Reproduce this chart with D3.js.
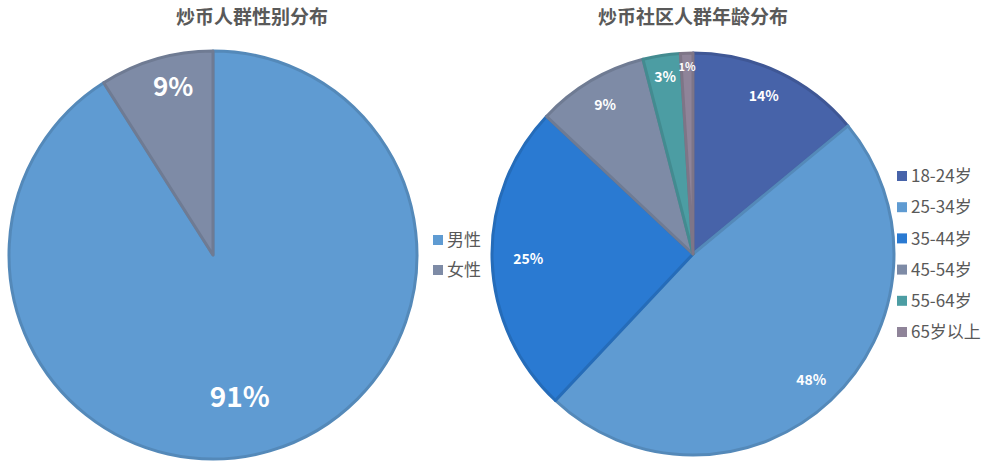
<!DOCTYPE html>
<html><head><meta charset="utf-8">
<script src="https://cdn.jsdelivr.net/npm/d3@7"></script>
<style>body{margin:0;background:#fff}svg{display:block}</style>
</head><body>
<svg id="c" width="1000" height="473"></svg>
<script>
const genderTitle = "炒币人群性别分布";
const genderCats = ["男性", "女性"];
const genderVals = [91, 9];
const genderColors = ["#5F9BD2", "#7E8BA6"];

const ageTitle = "炒币社区人群年龄分布";
const ageCats = ["18-24岁", "25-34岁", "35-44岁", "45-54岁", "55-64岁", "65岁以上"];
const ageVals = [14, 48, 25, 9, 3, 1];
const ageColors = ["#4763A9", "#5F9BD2", "#2A7AD2", "#7E8BA6", "#4C9DA3", "#8F8499"];

const svg = d3.select("#c");
const font = "'Noto Sans CJK SC', 'Noto Sans', sans-serif";

function drawPie(cfg) {
  const g = svg.append("g").attr("transform", `translate(${cfg.cx},${cfg.cy})`);
  const pie = d3.pie().sort(null).value(d => d.v);
  const data = pie(cfg.cats.map((c, i) => ({c, v: cfg.vals[i], col: cfg.colors[i]})));
  const arc = d3.arc().innerRadius(0).outerRadius(cfg.r);
  g.selectAll("path.s").data(data).join("path").attr("class", "s")
    .attr("d", arc)
    .attr("fill", d => d.data.col)
    .attr("stroke", d => d3.color(d.data.col).darker(0.35))
    .attr("stroke-width", 3)
    .attr("stroke-linejoin", "round");
  g.selectAll("text.l").data(data).join("text").attr("class", "l")
    .attr("transform", d => {
      const f = cfg.labelR(d);
      const t = cfg.labelA(d);
      const a = d.startAngle + (d.endAngle - d.startAngle) * t;
      const x = Math.sin(a) * cfg.r * f, y = -Math.cos(a) * cfg.r * f;
      return `translate(${x},${y})`;
    })
    .attr("text-anchor", "middle").attr("dy", "0.36em")
    .attr("fill", "#fff").attr("font-weight", "bold")
    .attr("font-family", font)
    .attr("font-size", d => cfg.labelSize(d))
    .text(d => d.data.v + "%");
  svg.append("text").attr("x", cfg.tx).attr("y", 24)
    .attr("text-anchor", "middle").attr("font-family", font)
    .attr("font-weight", "bold").attr("font-size", 19).attr("fill", "#595959")
    .text(cfg.title);
  const lg = svg.append("g").attr("transform", `translate(${cfg.lx},${cfg.ly})`);
  const items = lg.selectAll("g").data(cfg.cats).join("g")
    .attr("transform", (d, i) => `translate(0,${i * cfg.lstep})`);
  items.append("rect").attr("x", 0).attr("y", -5).attr("width", 10).attr("height", 10)
    .attr("fill", (d, i) => cfg.colors[i]);
  items.append("text").attr("x", 14).attr("y", 0).attr("dy", "0.36em")
    .attr("font-family", font).attr("font-size", 17).attr("fill", "#595959")
    .text(d => d);
}

drawPie({
  cx: 213, cy: 255, r: 204, cats: genderCats, vals: genderVals, colors: genderColors,
  title: genderTitle, tx: 252,
  labelR: d => d.data.v > 50 ? 0.71 : 0.85,
  labelA: d => d.data.v > 50 ? 0.517 : 0.59,
  labelSize: d => d.data.v > 50 ? 28 : 26,
  lx: 433, ly: 240, lstep: 30
});

drawPie({
  cx: 693, cy: 254, r: 201, cats: ageCats, vals: ageVals, colors: ageColors,
  title: ageTitle, tx: 693,
  labelR: d => d.data.v <= 1 ? 0.93 : (d.data.v <= 3 ? 0.89 : (d.data.v === 25 ? 0.82 : 0.86)),
  labelA: d => d.data.v === 14 ? 0.48 : 0.5,
  labelSize: d => d.data.v <= 1 ? 11 : 14,
  lx: 897, ly: 176, lstep: 31.2
});
</script>
</body></html>
